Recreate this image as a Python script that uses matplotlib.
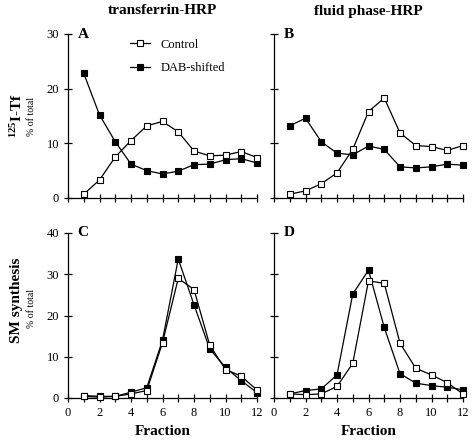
import matplotlib.pyplot as plt
import numpy as np

plt.rcParams['font.family'] = ['Liberation Serif', 'DejaVu Serif']
plt.rcParams['mathtext.default'] = 'regular'

fractions = np.arange(1, 13)

# A: transferrin-HRP, 125I-Tf
tf_control = [0.7, 3.3, 7.5, 10.5, 13.2, 14.0, 12.1, 8.6, 7.7, 7.85, 8.5, 7.4]
tf_dab = [22.8, 15.2, 10.3, 6.2, 5.0, 4.4, 4.9, 6.1, 6.2, 7.0, 7.2, 6.4]
# B: fluid phase-HRP, 125I-Tf
fp_control = [0.7, 1.3, 2.6, 4.6, 8.9, 15.8, 18.3, 11.9, 9.6, 9.4, 8.7, 9.6]
fp_dab = [13.2, 14.6, 10.3, 8.2, 7.9, 9.5, 8.9, 5.7, 5.5, 5.7, 6.2, 6.0]
# C: transferrin-HRP, SM synthesis
sm_tf_control = [0.4, 0.2, 0.4, 1.0, 1.8, 13.4, 29.0, 26.3, 12.8, 6.9, 5.3, 1.9]
sm_tf_dab = [0.6, 0.4, 0.4, 1.4, 2.5, 14.0, 33.7, 22.6, 11.9, 7.4, 4.2, 1.3]
# D: fluid phase-HRP, SM synthesis
sm_fp_control = [1.0, 0.8, 1.0, 2.8, 8.4, 28.4, 27.8, 13.3, 7.2, 5.6, 3.7, 1.0]
sm_fp_dab = [1.0, 1.8, 2.2, 5.6, 25.2, 31.0, 17.1, 5.9, 3.6, 3.0, 2.6, 2.0]

fig = plt.figure(figsize=(4.74, 4.43), dpi=100)

W, H = 474.0, 443.0
def add_ax(x0, x1, ytop, ybot):
    return fig.add_axes([x0 / W, 1 - ybot / H, (x1 - x0) / W, (ybot - ytop) / H])

axA = add_ax(68, 257, 34, 198)
axB = add_ax(274, 463, 34, 198)
axC = add_ax(68, 257, 233, 398)
axD = add_ax(274, 463, 233, 398)

panels = [
    (axA, tf_control, tf_dab, 30, 'A'),
    (axB, fp_control, fp_dab, 30, 'B'),
    (axC, sm_tf_control, sm_tf_dab, 40, 'C'),
    (axD, sm_fp_control, sm_fp_dab, 40, 'D'),
]

for ax, ctrl, dab, ymax, letter in panels:
    ax.plot(fractions, ctrl, color='black', lw=0.9, marker='s', ms=4.3,
            mfc='white', mec='black', mew=0.8, clip_on=False, label='Control', zorder=3)
    ax.plot(fractions, dab, color='black', lw=0.9, marker='s', ms=4.3,
            mfc='black', mec='black', mew=0.8, clip_on=False, label='DAB-shifted', zorder=2)
    ax.set_xlim(0, 12)
    ax.set_ylim(0, ymax)
    ax.set_yticks(np.arange(0, ymax + 1, 10))
    ax.set_xticks(np.arange(0, 13, 1))
    ax.spines['top'].set_visible(False)
    ax.spines['right'].set_visible(False)
    for s in ('left', 'bottom'):
        ax.spines[s].set_linewidth(0.9)
    ax.tick_params(direction='inout', length=6, width=0.9, labelsize=9)
    ax.text(0.05, 1.0, letter, transform=ax.transAxes, fontsize=11,
            fontweight='bold', va='center', ha='left')

for ax in (axA, axB):
    ax.set_xticklabels([])
for ax in (axC, axD):
    ax.set_xticklabels([str(i) if i % 2 == 0 else '' for i in range(13)])
    ax.set_xlabel('Fraction', fontsize=11, fontweight='bold', labelpad=4)
for ax in (axB, axD):
    ax.set_yticklabels([])

axA.legend(loc='upper left', bbox_to_anchor=(0.27, 1.04), frameon=False,
           fontsize=9, handlelength=1.6, handletextpad=0.8, labelspacing=0.9)

fig.text(162 / W, 1 - 11 / H, 'transferrin-HRP', ha='center', va='center',
         fontsize=11, fontweight='bold')
fig.text(368 / W, 1 - 11 / H, 'fluid phase-HRP', ha='center', va='center',
         fontsize=11, fontweight='bold')

fig.text(17 / W, 1 - 116 / H, '$^{125}$I-Tf', rotation=90, ha='center', va='center',
         fontsize=11, fontweight='bold')
fig.text(32 / W, 1 - 116 / H, '% of total', rotation=90, ha='center', va='center',
         fontsize=7)
fig.text(17 / W, 1 - 300 / H, 'SM synthesis', rotation=90, ha='center', va='center',
         fontsize=11, fontweight='bold')
fig.text(32 / W, 1 - 308 / H, '% of total', rotation=90, ha='center', va='center',
         fontsize=7)

fig.savefig('out.png', dpi=100)
